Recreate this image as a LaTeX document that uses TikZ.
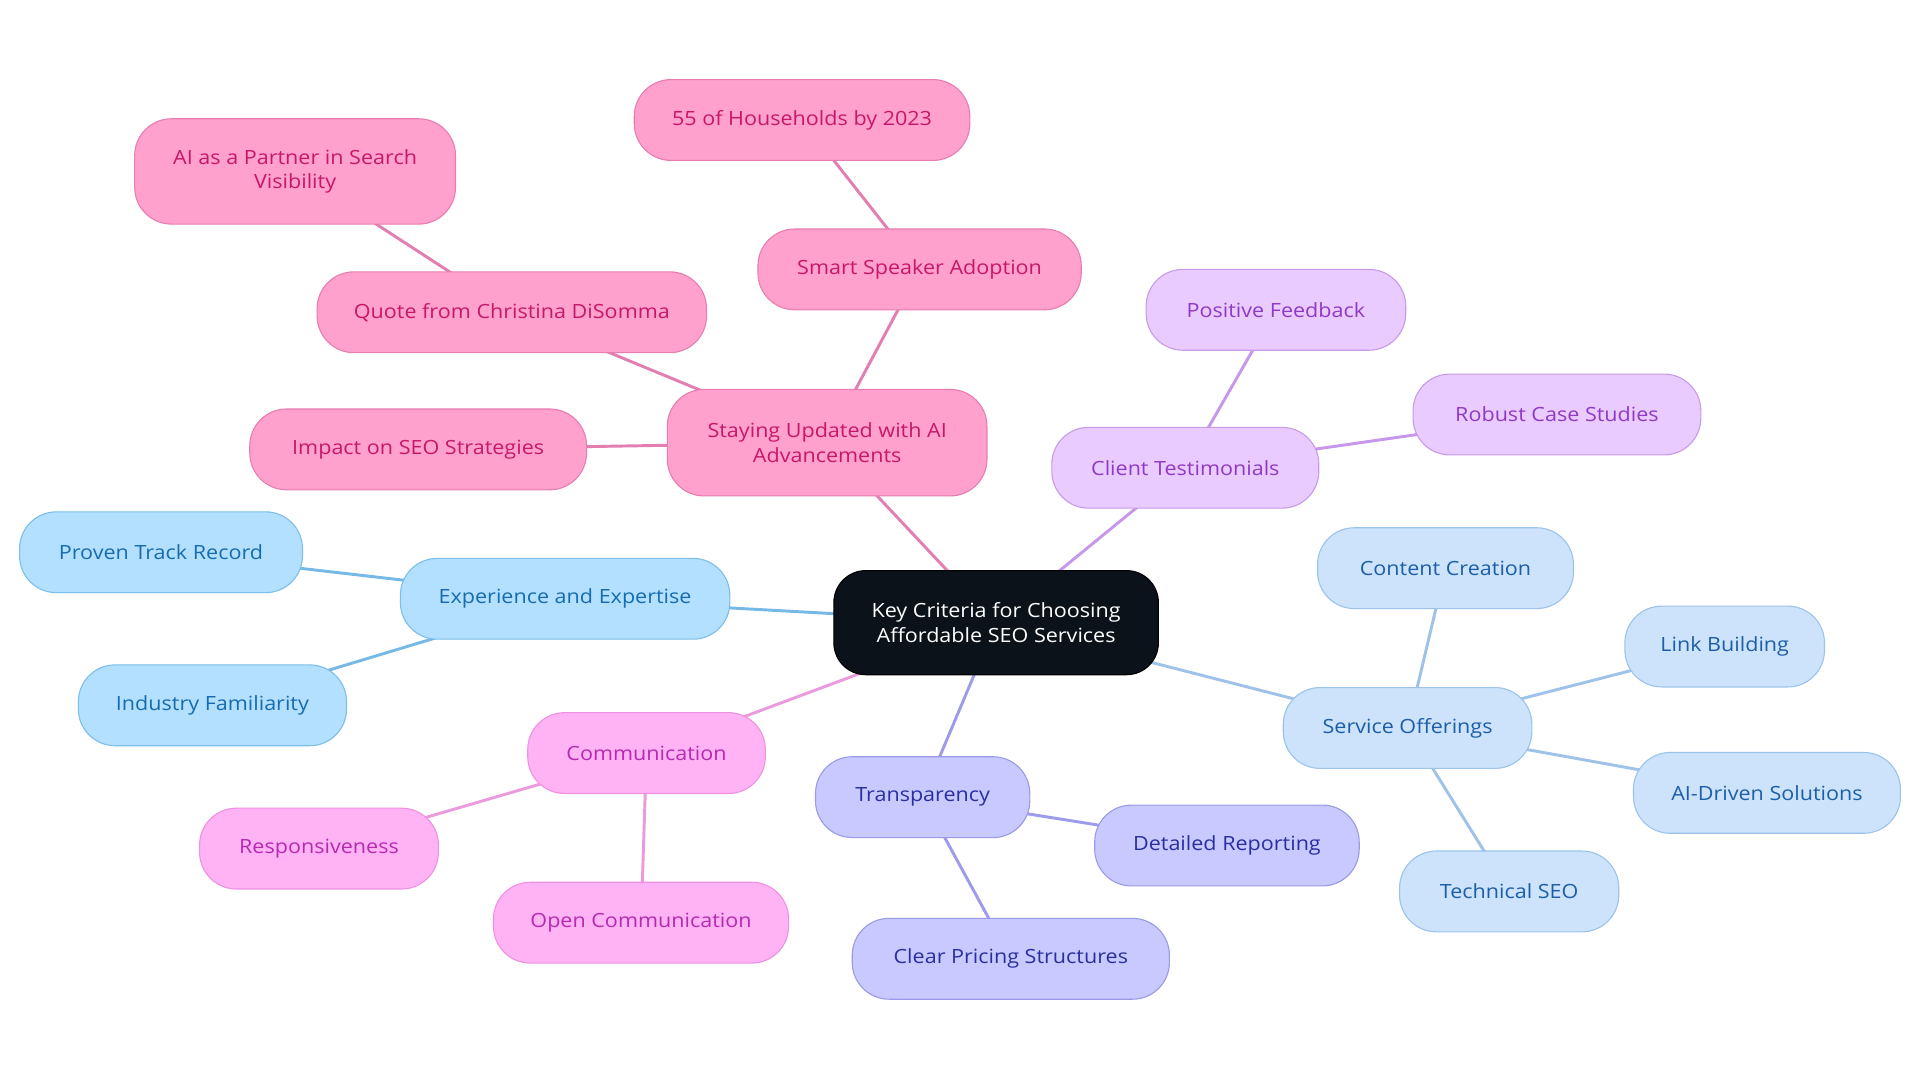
\documentclass[tikz,border=0pt]{standalone}
\usepackage{fontspec}
\setmainfont{Open Sans}[FakeStretch=1.1]
\usetikzlibrary{backgrounds}
\definecolor{rootfill}{RGB}{12,18,26}
\definecolor{pinkfill}{RGB}{255,161,204}
\definecolor{pinkdraw}{RGB}{232,125,176}
\definecolor{pinktext}{RGB}{198,24,106}
\definecolor{pinkline}{RGB}{226,126,176}
\definecolor{violfill}{RGB}{233,203,255}
\definecolor{violdraw}{RGB}{200,155,234}
\definecolor{violtext}{RGB}{142,58,196}
\definecolor{violline}{RGB}{198,151,234}
\definecolor{skyfill}{RGB}{179,224,255}
\definecolor{skydraw}{RGB}{123,191,234}
\definecolor{skytext}{RGB}{22,108,174}
\definecolor{skyline}{RGB}{118,185,230}
\definecolor{magfill}{RGB}{255,179,245}
\definecolor{magdraw}{RGB}{238,145,224}
\definecolor{magtext}{RGB}{182,42,176}
\definecolor{magline}{RGB}{235,155,220}
\definecolor{lavfill}{RGB}{200,201,255}
\definecolor{lavdraw}{RGB}{154,154,230}
\definecolor{lavtext}{RGB}{42,47,160}
\definecolor{lavline}{RGB}{156,156,235}
\definecolor{icefill}{RGB}{204,227,251}
\definecolor{icedraw}{RGB}{156,195,234}
\definecolor{icetext}{RGB}{29,94,168}
\definecolor{iceline}{RGB}{159,194,232}

\begin{document}
\begin{tikzpicture}[x=1pt,y=-1pt,
box/.style={rounded corners=30pt,draw,line width=.9pt,align=center,inner sep=0pt,
minimum height=66pt,font=\fontsize{16}{20}\selectfont},
pinkbox/.style={box,fill=pinkfill,draw=pinkdraw,text=pinktext},
violbox/.style={box,fill=violfill,draw=violdraw,text=violtext},
skybox/.style={box,fill=skyfill,draw=skydraw,text=skytext},
magbox/.style={box,fill=magfill,draw=magdraw,text=magtext},
lavbox/.style={box,fill=lavfill,draw=lavdraw,text=lavtext},
icebox/.style={box,fill=icefill,draw=icedraw,text=icetext},
link/.style={line width=2.4pt}]
\useasboundingbox (0,0) rectangle (1568,884);
% root
\node[box,fill=rootfill,draw=black,text=white,minimum width=265pt,minimum height=85pt,rounded corners=26pt] (root) at (813.5,508.5) {Key Criteria for Choosing\\Affordable SEO Services};
% AI branch
\node[pinkbox,minimum width=261pt,minimum height=87pt] (ai) at (675.5,361.5) {Staying Updated with AI\\Advancements};
\node[pinkbox,minimum width=318pt] (quote) at (418,255) {Quote from Christina DiSomma};
\node[pinkbox,minimum width=262pt,minimum height=86pt] (partner) at (241,140) {AI as a Partner in Search\\Visibility};
\node[pinkbox,minimum width=264pt] (smart) at (751,220) {Smart Speaker Adoption};
\node[pinkbox,minimum width=274pt] (house) at (655,98) {55 of Households by 2023};
\node[pinkbox,minimum width=275pt] (impact) at (341.5,367) {Impact on SEO Strategies};
% testimonials
\node[violbox,minimum width=218pt] (client) at (968,382) {Client Testimonials};
\node[violbox,minimum width=212pt] (posfb) at (1042,253) {Positive Feedback};
\node[violbox,minimum width=235pt] (cases) at (1271.5,338.5) {Robust Case Studies};
% experience
\node[skybox,minimum width=269pt] (exp) at (461.5,489) {Experience and Expertise};
\node[skybox,minimum width=231pt] (track) at (131.5,451) {Proven Track Record};
\node[skybox,minimum width=219pt] (indus) at (173.5,576) {Industry Familiarity};
% communication
\node[magbox,minimum width=194pt] (comm) at (528,615) {Communication};
\node[magbox,minimum width=195pt] (resp) at (260.5,693) {Responsiveness};
\node[magbox,minimum width=241pt] (open) at (523.5,753.5) {Open Communication};
% transparency
\node[lavbox,minimum width=175pt] (transp) at (753.5,651) {Transparency};
\node[lavbox,minimum width=216pt] (report) at (1002,690.5) {Detailed Reporting};
\node[lavbox,minimum width=259pt] (price) at (825.5,783) {Clear Pricing Structures};
% services
\node[icebox,minimum width=203pt] (serv) at (1149.5,594.5) {Service Offerings};
\node[icebox,minimum width=209pt] (content) at (1180.5,464) {Content Creation};
\node[icebox,minimum width=163pt] (link) at (1408.5,528) {Link Building};
\node[icebox,minimum width=218pt] (aidriven) at (1443,647.5) {AI-Driven Solutions};
\node[icebox,minimum width=179pt] (tech) at (1232.5,728) {Technical SEO};
\begin{scope}[on background layer]
\draw[link,pinkline] (root.center)--(ai.center) (ai.center)--(quote.center) (quote.center)--(partner.center)
(ai.center)--(smart.center) (smart.center)--(house.center) (ai.center)--(impact.center);
\draw[link,violline] (root.center)--(client.center) (client.center)--(posfb.center) (client.center)--(cases.center);
\draw[link,skyline] (root.center)--(exp.center) (exp.center)--(track.center) (exp.center)--(indus.center);
\draw[link,magline] (root.center)--(comm.center) (comm.center)--(resp.center) (comm.center)--(open.center);
\draw[link,lavline] (root.center)--(transp.center) (transp.center)--(report.center) (transp.center)--(price.center);
\draw[link,iceline] (root.center)--(serv.center) (serv.center)--(content.center) (serv.center)--(link.center)
(serv.center)--(aidriven.center) (serv.center)--(tech.center);
\end{scope}
\end{tikzpicture}
\end{document}
